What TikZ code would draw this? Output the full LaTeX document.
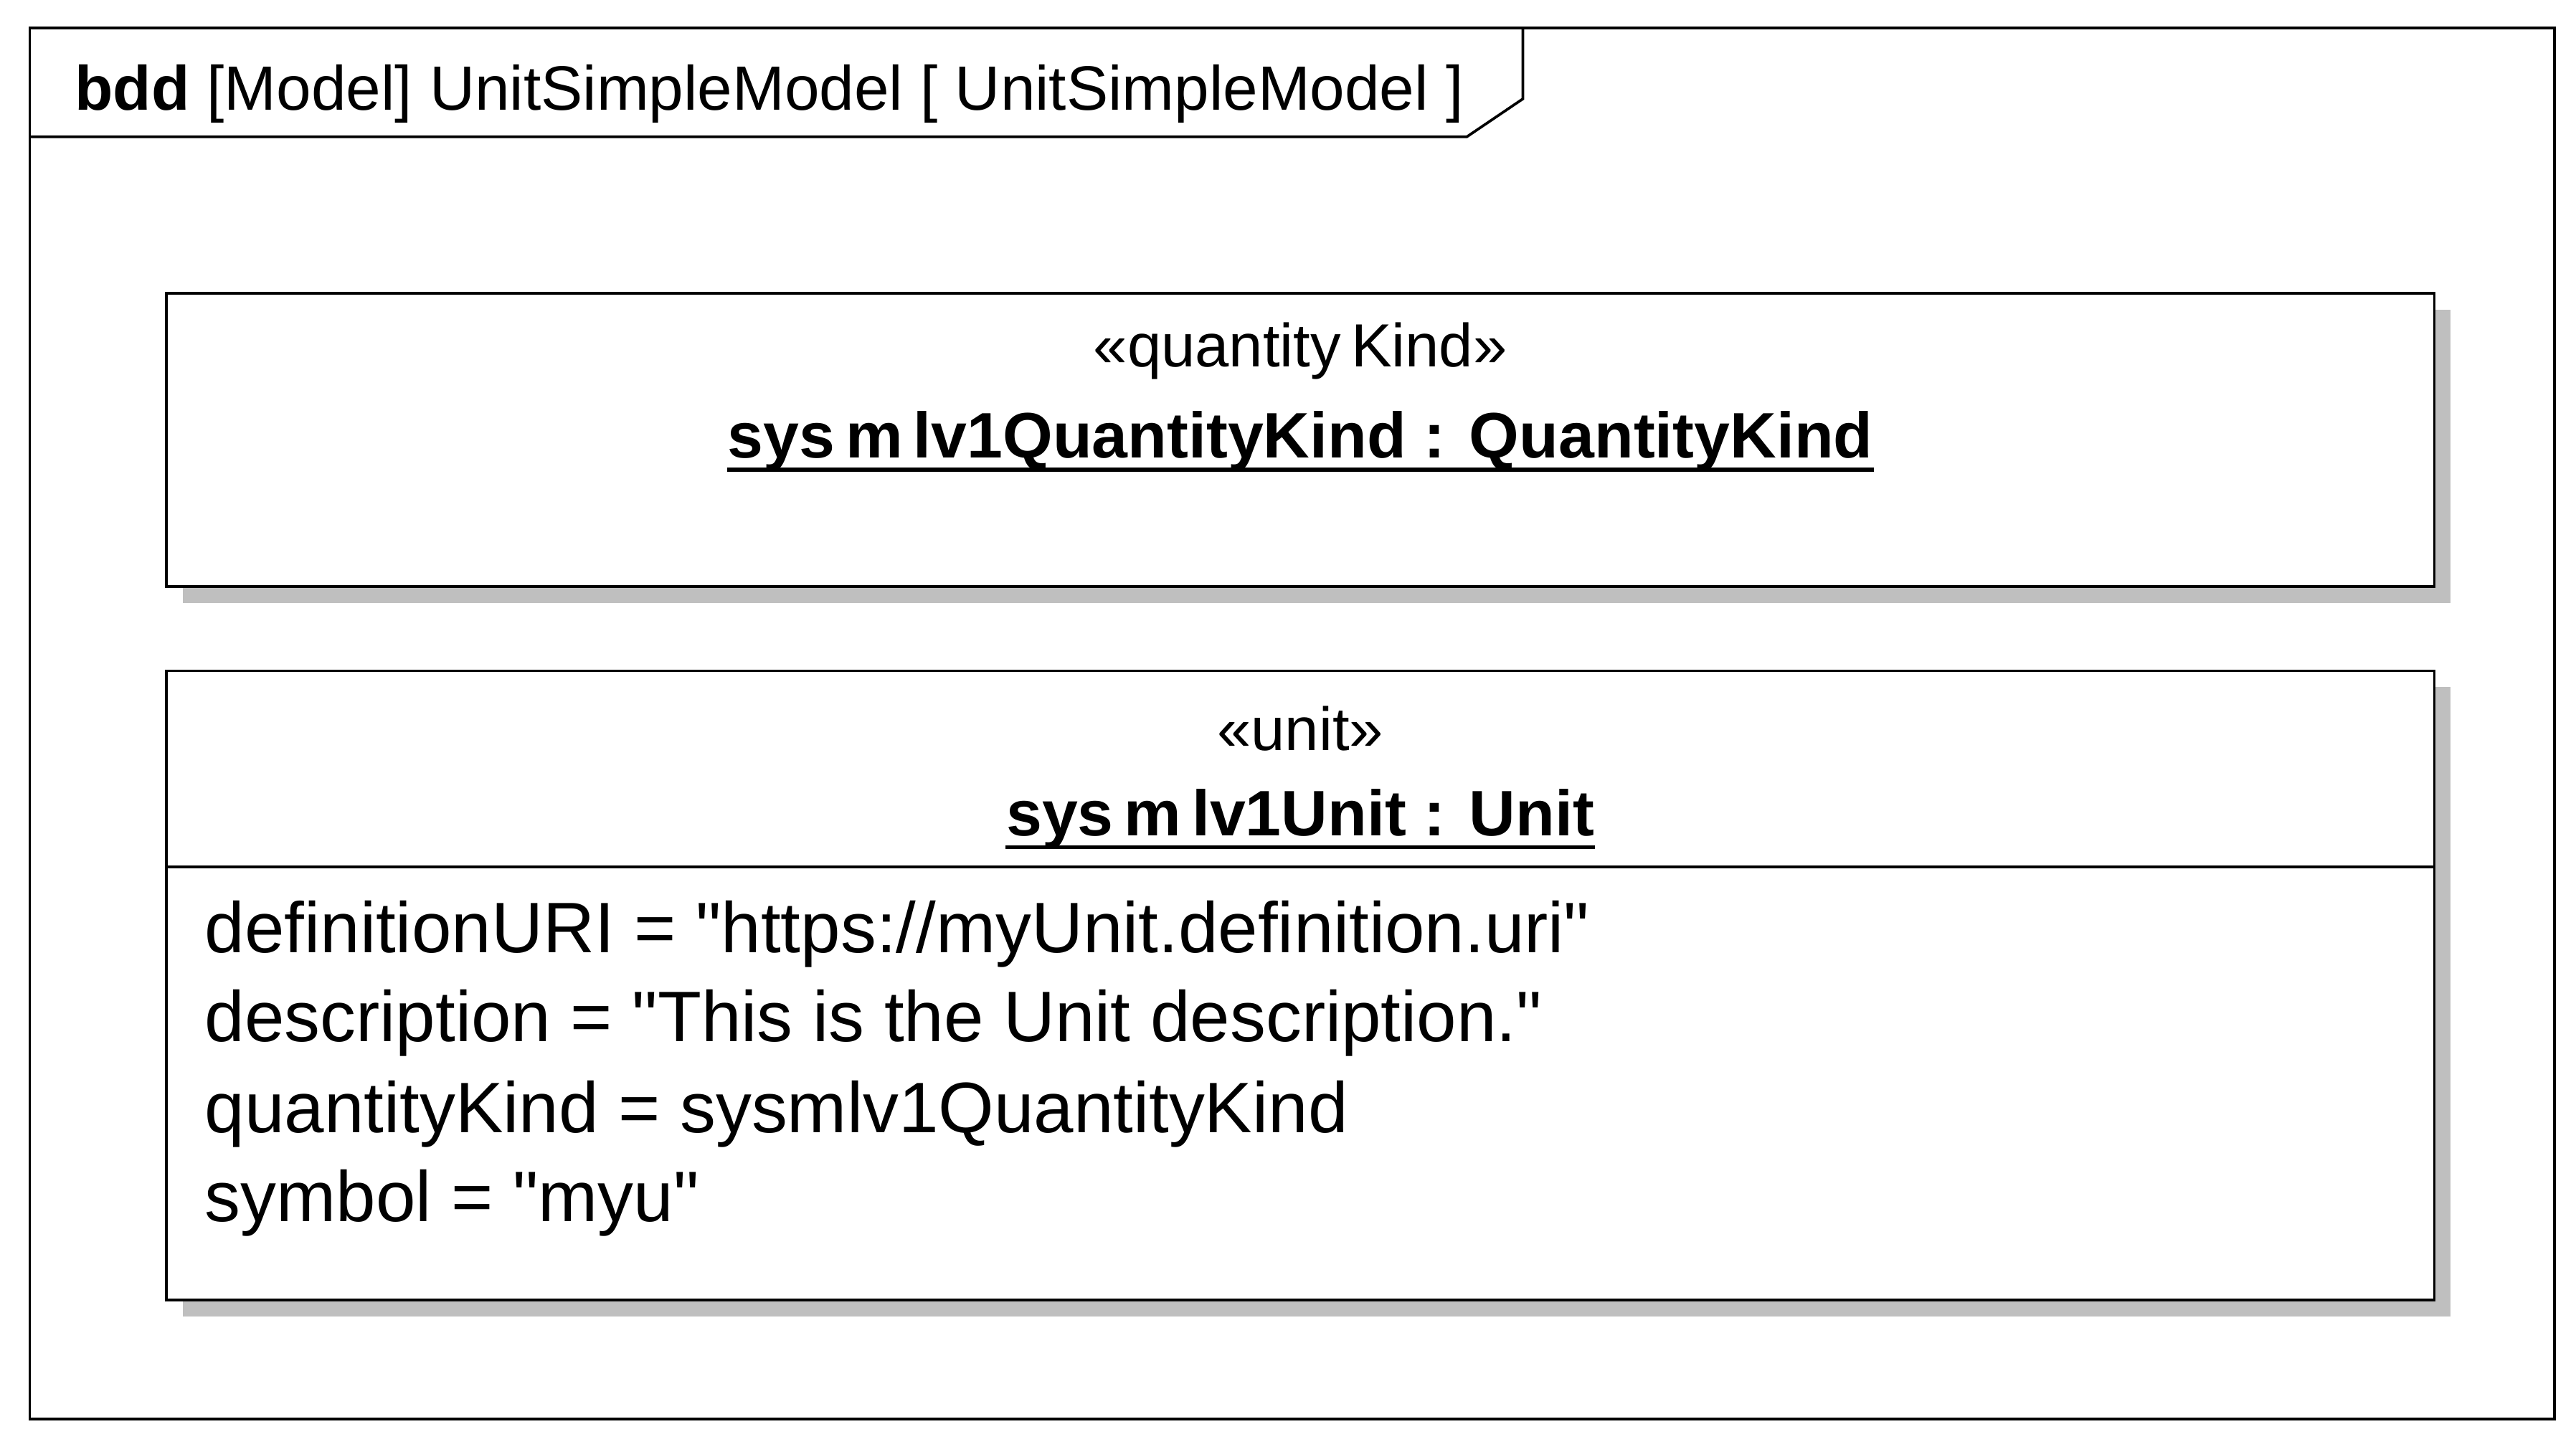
\documentclass[tikz,border=0pt]{standalone}
\usepackage{fontspec}
\setmainfont{Liberation Sans}[Ligatures=TeXOff]
\usetikzlibrary{positioning}
\newcommand{\uline}[1]{\tikz[baseline=(t.base)]{\node[inner sep=0pt] (t) {#1};
	\draw[line width=1.2pt] ([yshift=-3.5pt]t.base west) -- ([yshift=-3.5pt]t.base east);}}
\tikzset{
  block/.style = {draw, thick, fill=white},
  shade/.style = {fill=black!25, draw=none},
  stereo/.style = {font=\fontsize{18.5}{20}\selectfont},
  title/.style = {font=\fontsize{19.5}{22}\selectfont\bfseries},
  attr/.style = {font=\fontsize{21.7}{24}\selectfont, anchor=west, inner sep=0pt}
}
\begin{document}
\begin{tikzpicture}[x=0.5pt, y=-0.5pt]
	\useasboundingbox (0,0) rectangle (1563,878);
	%% FRAME
	\draw[thick] (18,17) rectangle (1550,861);
	\draw[thick] (18,83) -- (890,83) -- (924,60) -- (924,17);
	\node[anchor=base west, inner sep=0pt, font=\fontsize{19}{22}\selectfont] (frame) at (45,67)
		{\textbf{bdd} [Model] UnitSimpleModel [ UnitSimpleModel ]};
	%% BLOCKS
	% Quantity kind
	\fill[shade] (111,188) rectangle (1487,366);
	\draw[block] (101,178) rectangle (1477,356);
	\node[stereo] (qk-st) at (789,213) {«quantity\,Kind»};
	\node[title] (qk) at (789,268) {\uline{sys\,m\,lv1QuantityKind : QuantityKind}};
	% Unit
	\fill[shade] (111,417) rectangle (1487,799);
	\draw[block] (101,407) rectangle (1477,789);
	\draw[thick] (101,526) -- (1477,526);
	\node[stereo] (u-st) at (789,442) {«unit»};
	\node[title] (u) at (789,497) {\uline{sys\,m\,lv1Unit : Unit}};
	% Attributes
	\node[attr] (a1) at (124,567) {definitionURI = "https://myUnit.definition.uri"};
	\node[attr] (a2) at (124,621) {description = "This is the Unit description."};
	\node[attr] (a3) at (124,676) {quantityKind = sysmlv1QuantityKind};
	\node[attr] (a4) at (124,730) {symbol = "myu"};
\end{tikzpicture}
\end{document}
